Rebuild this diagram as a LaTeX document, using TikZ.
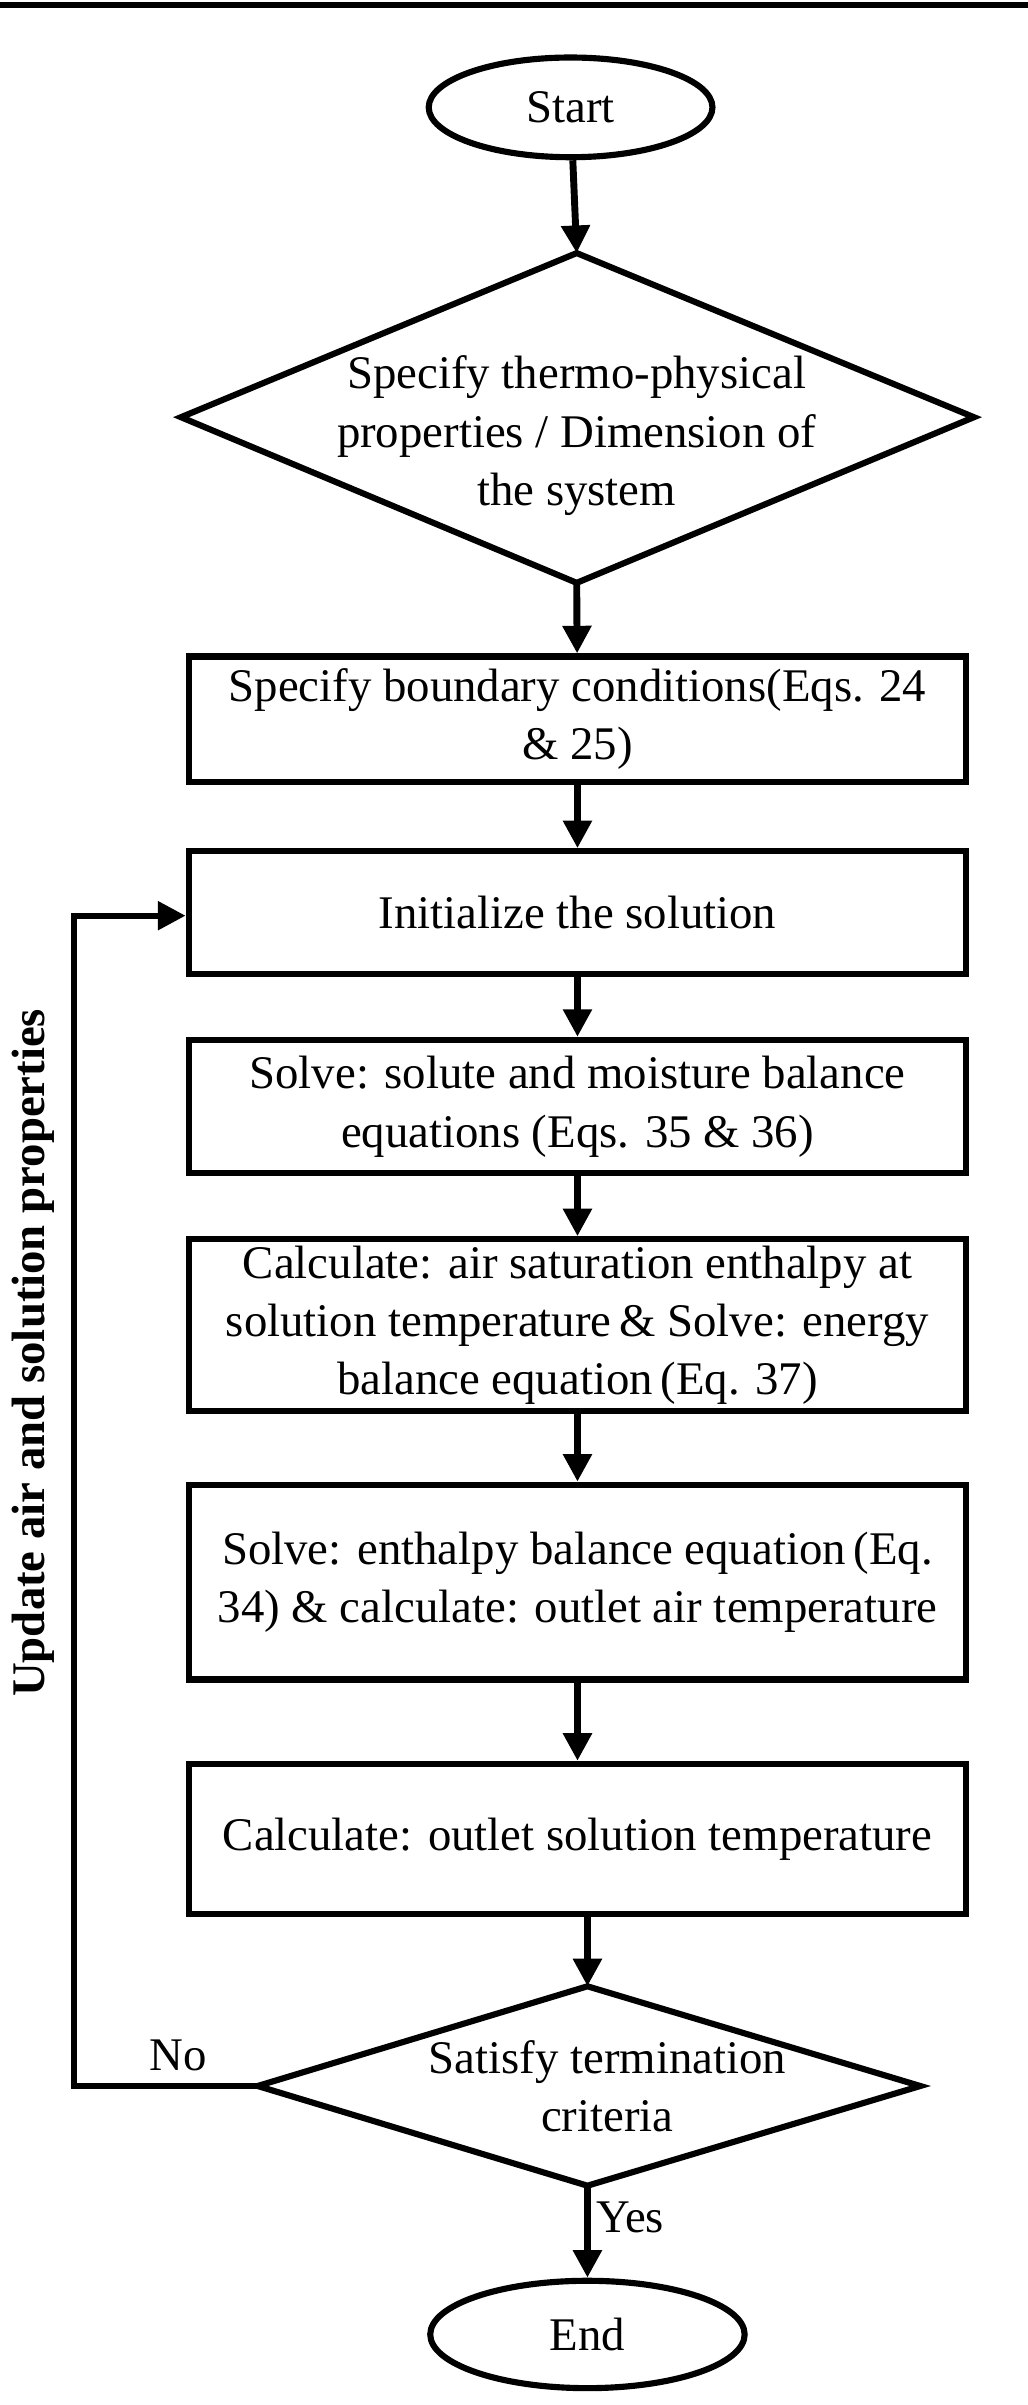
\documentclass[tikz,border=0pt]{standalone}
\usepackage{fontspec}
\setmainfont{Liberation Serif}
\usetikzlibrary{shapes.geometric,arrows.meta}
\begin{document}
\begin{tikzpicture}[x=1pt,y=-1pt,
  every node/.style={font=\fontsize{30.5}{38}\selectfont},
  box/.style={draw,line width=4pt,minimum width=507pt,align=center,inner sep=2pt},
  term/.style={draw,ellipse,line width=4pt},
  arr/.style={line width=4.5pt,-{Triangle[length=18pt,width=18pt]}}]
\useasboundingbox (0,0) rectangle (670,1568);
\draw[line width=4pt] (0,3) -- (670,3);
\node[term,minimum width=185pt,minimum height=65pt] (start) at (372,70) {Start};
\draw[line width=4pt] (118,272) -- (376,165) -- (635,272) -- (376,380) -- cycle;
\coordinate (d1t) at (376,165); \coordinate (d1b) at (376,380);
\node[align=center] (d1) at (376,284) {Specify thermo-physical\\properties / Dimension of\\the system};
\node[box,minimum height=82pt] (b1) at (376.5,469) {Specify boundary conditions(Eqs. 24\\\& 25)};
\node[box,minimum height=80pt] (b2) at (376.5,595) {Initialize the solution};
\node[box,minimum height=87pt] (b3) at (376.5,721.5) {Solve: solute and moisture balance\\equations (Eqs. 35 \& 36)};
\node[box,minimum height=112pt] (b4) at (376.5,864) {Calculate: air saturation enthalpy at\\solution temperature\,\& Solve: energy\\balance equation\,(Eq. 37)};
\node[box,minimum height=127pt] (b5) at (376.5,1031.5) {Solve: enthalpy balance equation\,(Eq.\\34) \& calculate: outlet air temperature};
\node[box,minimum height=98pt] (b6) at (376.5,1199) {Calculate: outlet solution temperature};
\draw[line width=4pt] (168,1360) -- (383,1295) -- (600,1360) -- (383,1425) -- cycle;
\coordinate (d2t) at (383,1295); \coordinate (d2b) at (383,1425); \coordinate (d2l) at (168,1360);
\node[align=center] (d2) at (396,1360) {Satisfy termination\\criteria};
\node[term,minimum width=205pt,minimum height=70pt] (end) at (383,1522) {End};
\draw[arr] (start) -- (d1t);
\draw[arr] (d1b) -- (b1);
\draw[arr] (b1) -- (b2);
\draw[arr] (b2) -- (b3);
\draw[arr] (b3) -- (b4);
\draw[arr] (b4) -- (b5);
\draw[arr] (b5) -- (b6);
\draw[arr] (b6.south -| d2t) -- (d2t);
\draw[arr] (d2b) -- (end) node[pos=0.35,right=0pt] (yes) {Yes};
\coordinate (c1) at (48,1360); \coordinate (c2) at (48,597);
\draw[arr,line width=4pt] (d2l) -- (c1) -- (c2) -- (b2.west |- c2);
\node (no) at (116,1340) {No};
\node[rotate=90,font=\fontsize{30.5}{38}\selectfont\bfseries] (upd) at (22,882) {Update air and solution properties};
\end{tikzpicture}
\end{document}
